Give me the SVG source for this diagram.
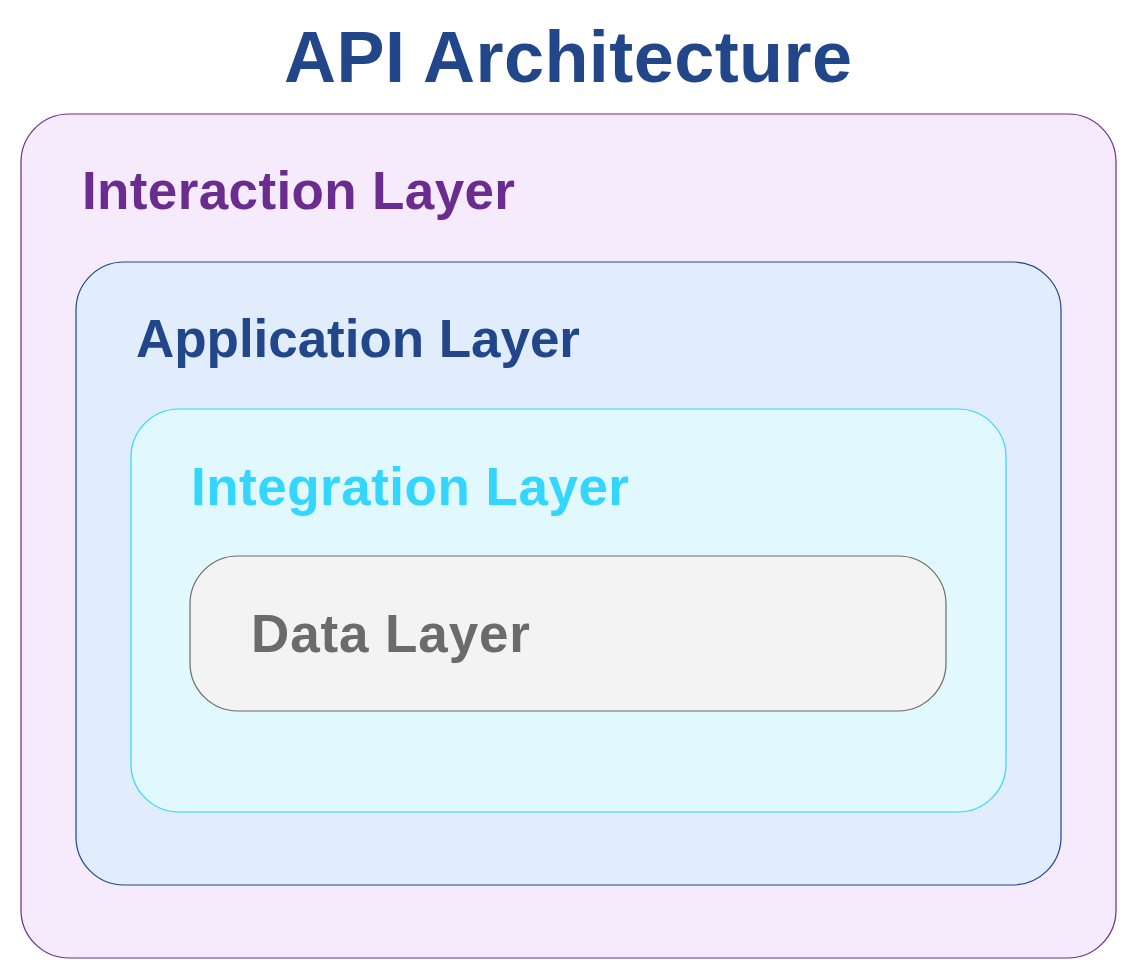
<svg xmlns="http://www.w3.org/2000/svg" width="1136" height="974" viewBox="0 0 1136 974">
<style>
text{font-family:"Liberation Sans",Arial,sans-serif;font-weight:bold}
.lbl{font-size:53px}
</style>
<rect width="1136" height="974" fill="#ffffff"/>
<text x="568" y="82" text-anchor="middle" font-size="72" fill="#22468a" textLength="568">API Architecture</text>
<g id="interaction">
<rect x="21" y="114" width="1095" height="844" rx="48" fill="#f6eafd" stroke="#6a2c8f" stroke-width="1.2"/>
<text class="lbl" x="82" y="209" fill="#6a2c8f" textLength="433">Interaction Layer</text>
</g>
<g id="application">
<rect x="76" y="262" width="985" height="623" rx="48" fill="#e1edfd" stroke="#22468a" stroke-width="1.2"/>
<text class="lbl" x="136" y="357" fill="#22468a" textLength="444">Application Layer</text>
</g>
<g id="integration">
<rect x="131" y="409" width="875" height="403" rx="48" fill="#e1f9fe" stroke="#33d6ff" stroke-width="1.2"/>
<text class="lbl" x="191" y="505" fill="#33d6ff" textLength="438">Integration Layer</text>
</g>
<g id="data">
<rect x="190" y="556" width="756" height="155" rx="48" fill="#f3f3f3" stroke="#6b6b6b" stroke-width="1.2"/>
<text class="lbl" x="251" y="652" fill="#6b6b6b" textLength="279">Data Layer</text>
</g>
<g id="connectors"/>
</svg>
